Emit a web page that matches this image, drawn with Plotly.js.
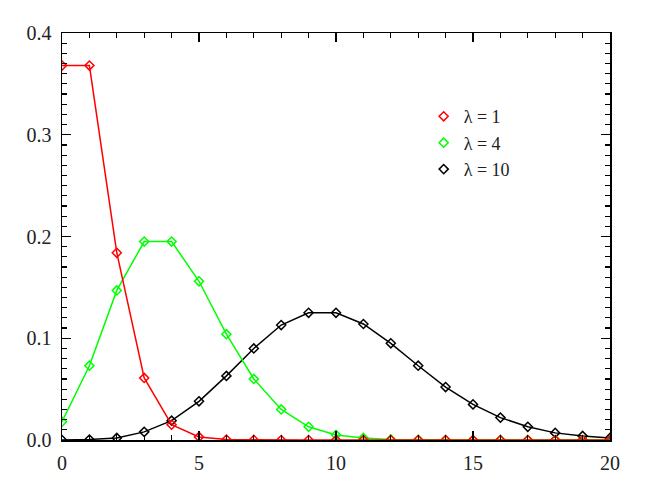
<!DOCTYPE html>
<html>
<head>
<meta charset="utf-8">
<script src="https://cdn.plot.ly/plotly-3.0.1.min.js"></script>
<style>
  html,body{margin:0;padding:0;background:#fff}
  #plot{width:654px;height:494px}
</style>
</head>
<body>
<div id="plot"></div>
<script>
"use strict"

// k = 0..20
const k = [0,1,2,3,4,5,6,7,8,9,10,11,12,13,14,15,16,17,18,19,20]

// values
const lambda1 = [0.368,0.368,0.184,0.061,0.015,0.003,0.0005,0.0001,0,0,0,0,0,0,0,0,0,0,0,0,0]
const lambda4 = [0.018,0.073,0.147,0.195,0.195,0.156,0.104,0.060,0.030,0.013,0.005,0.002,0.0006,0.0002,0,0,0,0,0,0,0]
const lambda10 = [0,0.0005,0.002,0.008,0.019,0.038,0.063,0.090,0.113,0.125,0.125,0.114,0.095,0.073,0.052,0.035,0.022,0.013,0.007,0.004,0.002]

const names = ["λ = 1","λ = 4","λ = 10"]
const colors = ["#ff0000","#00ff00","#000000"]
const series = [lambda1, lambda4, lambda10]

const font = '"Liberation Serif", "Times New Roman", serif'

const curve = (y,i)=>({
  x: k,
  y: y,
  mode: 'lines+markers',
  type: 'scatter',
  showlegend: false,
  line: {color: colors[i], width: 1.5},
  marker: {symbol: 'diamond-open', size: 7, color: colors[i], line: {width: 1.5}},
})

// legend-only entries: marker with no line
const key = (y,i)=>({
  x: [null],
  y: [null],
  mode: 'markers',
  type: 'scatter',
  name: names[i],
  marker: {symbol: 'diamond-open', size: 7, color: colors[i], line: {width: 1.5}},
})

// black first, red last so red lies on top
const data = [2,1,0].map(i=>curve(series[i],i)).concat(series.map(key))

const axis = {
  showline: true,
  linecolor: '#000',
  linewidth: 1.5,
  mirror: 'ticks',
  ticks: 'inside',
  ticklen: 9,
  tickwidth: 1.2,
  tickcolor: '#000',
  showgrid: false,
  zeroline: false,
  tickfont: {family: font, size: 20, color: '#222'},
}

const layout = {
  width: 654,
  height: 494,
  paper_bgcolor: '#fff',
  plot_bgcolor: '#fff',
  margin: {l: 62, r: 44, t: 33, b: 54, pad: 0},
  font: {family: font},
  xaxis: Object.assign({}, axis, {
    range: [0, 20],
    dtick: 5,
    tick0: 0,
    ticklabelstandoff: 4,
    minor: {dtick: 1, ticks: 'inside', ticklen: 5, tickwidth: 1.2, tickcolor: '#000'},
  }),
  yaxis: Object.assign({}, axis, {
    range: [0, 0.4],
    dtick: 0.1,
    tick0: 0,
    tickformat: '.1f',
    ticklabelstandoff: 5,
    minor: {dtick: 0.01, ticks: 'inside', ticklen: 5, tickwidth: 1.2, tickcolor: '#000'},
  }),
  legend: {
    x: 0.66,
    y: 0.84,
    xanchor: 'left',
    yanchor: 'top',
    bgcolor: 'rgba(0,0,0,0)',
    font: {family: font, size: 18, color: '#222'},
    tracegroupgap: 0,
  },
}

Plotly.newPlot('plot', data, layout, {displayModeBar: false, staticPlot: true})
</script>
</body>
</html>
